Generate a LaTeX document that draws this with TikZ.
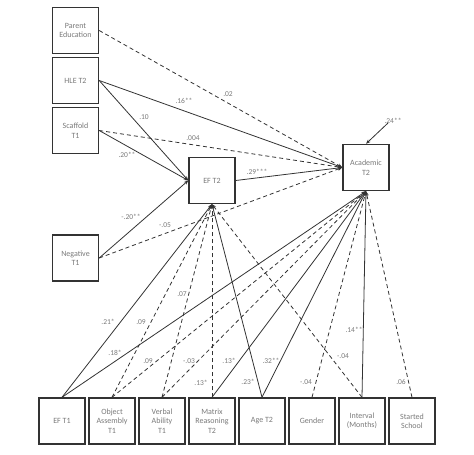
\documentclass[tikz,border=0pt]{standalone}
\usepackage{fontspec}
\setmainfont{Carlito}
\usetikzlibrary{arrows.meta}
\definecolor{txt}{HTML}{7A7A7A}
\definecolor{ln}{HTML}{333333}
\tikzset{
  box/.style={draw=ln, line width=1.4pt, minimum width=46pt, minimum height=46pt, inner sep=0pt, align=center, font=\fontsize{8}{9.5}\selectfont, text=txt, fill=white},
  lab/.style={font=\fontsize{7.5}{8.5}\selectfont, text=txt, inner sep=0.5pt},
  arr/.style={draw=ln, line width=0.8pt, -{Stealth[length=4.5pt,width=3.5pt]}},
  darr/.style={arr, dash pattern=on 4pt off 3pt}
}
\begin{document}
\begin{tikzpicture}[x=1pt,y=-1pt]
\useasboundingbox (0,0) rectangle (474,455);
% left column
\node[box] (pe) at (75.5,30.5) {Parent\\Education};
\node[box] (hle) at (75.5,80.5) {HLE T2};
\node[box] (sc) at (75.5,130.5) {Scaffold\\T1};
\node[box] (neg) at (75.5,258) {Negative\\T1};
% middle / right
\node[box] (ef2) at (212,180.5) {EF T2};
\node[box] (ac) at (366,167.5) {Academic\\T2};
% bottom row
\node[box] (ef1) at (62,421) {EF T1};
\node[box] (oa) at (112,421) {Object\\Assembly\\T1};
\node[box] (va) at (162,421) {Verbal\\Ability\\T1};
\node[box] (mr) at (212,421) {Matrix\\Reasoning\\T2};
\node[box] (age) at (262,421) {Age T2};
\node[box] (gen) at (312,421) {Gender};
\node[box] (int) at (362,421) {Interval\\(Months)};
\node[box] (ss) at (412,421) {Started\\School};
\coordinate (err) at (388,123);
% paths to Academic from left
\draw[darr] (pe.east) -- (ac.west);
\draw[arr] (hle.east) -- (ac.west);
\draw[darr] (sc.east) -- (ac.west);
\draw[darr] (neg.east) -- (ac.west);
\draw[arr] (ef2.east) -- (ac.west);
% paths to EF T2
\draw[arr] (hle.east) -- (ef2.west);
\draw[arr] (sc.east) -- (ef2.west);
\draw[arr] (neg.east) -- (ef2.west);
% bottom to EF T2
\draw[arr] (ef1.north) -- (ef2.south);
\draw[darr] (oa.north) -- (ef2.south);
\draw[darr] (va.north) -- (ef2.south);
\draw[darr] (mr.north) -- (ef2.south);
\draw[arr] (age.north) -- (ef2.south);
\draw[darr] (int.north) -- (ef2.south);
% bottom to Academic
\draw[arr] (ef1.north) -- (ac.south);
\draw[darr] (oa.north) -- (ac.south);
\draw[darr] (va.north) -- (ac.south);
\draw[arr] (mr.north) -- (ac.south);
\draw[arr] (age.north) -- (ac.south);
\draw[darr] (gen.north) -- (ac.south);
\draw[arr] (int.north) -- (ac.south);
\draw[darr] (ss.north) -- (ac.south);
% error
\draw[arr] (err) -- (ac.north);
% labels
\node[lab] (l1) at (228,94) {.02};
\node[lab] (l2) at (184,101) {.16**};
\node[lab] (l3) at (144,117) {.10};
\node[lab] (l4) at (193,138) {.004};
\node[lab] (l5) at (127,155) {.20**};
\node[lab] (l6) at (131,217) {-.20**};
\node[lab] (l7) at (165,225) {-.05};
\node[lab] (l8) at (257,172) {.29***};
\node[lab] (l9) at (393,121) {.24**};
\node[lab] (l10) at (182,294) {.07};
\node[lab] (l11) at (108,322) {.21*};
\node[lab] (l12) at (141,322) {.09};
\node[lab] (l13) at (115,353) {.18*};
\node[lab] (l14) at (148,361) {.09};
\node[lab] (l15) at (189,361) {-.03};
\node[lab] (l16) at (229,361) {.13*};
\node[lab] (l17) at (201,383) {.13*};
\node[lab] (l18) at (271,361) {.32**};
\node[lab] (l19) at (248,382) {.23*};
\node[lab] (l20) at (306,382) {-.04};
\node[lab] (l21) at (343,356) {-.04};
\node[lab] (l22) at (354,330) {.14**};
\node[lab] (l23) at (401,382) {.06};
\end{tikzpicture}
\end{document}
